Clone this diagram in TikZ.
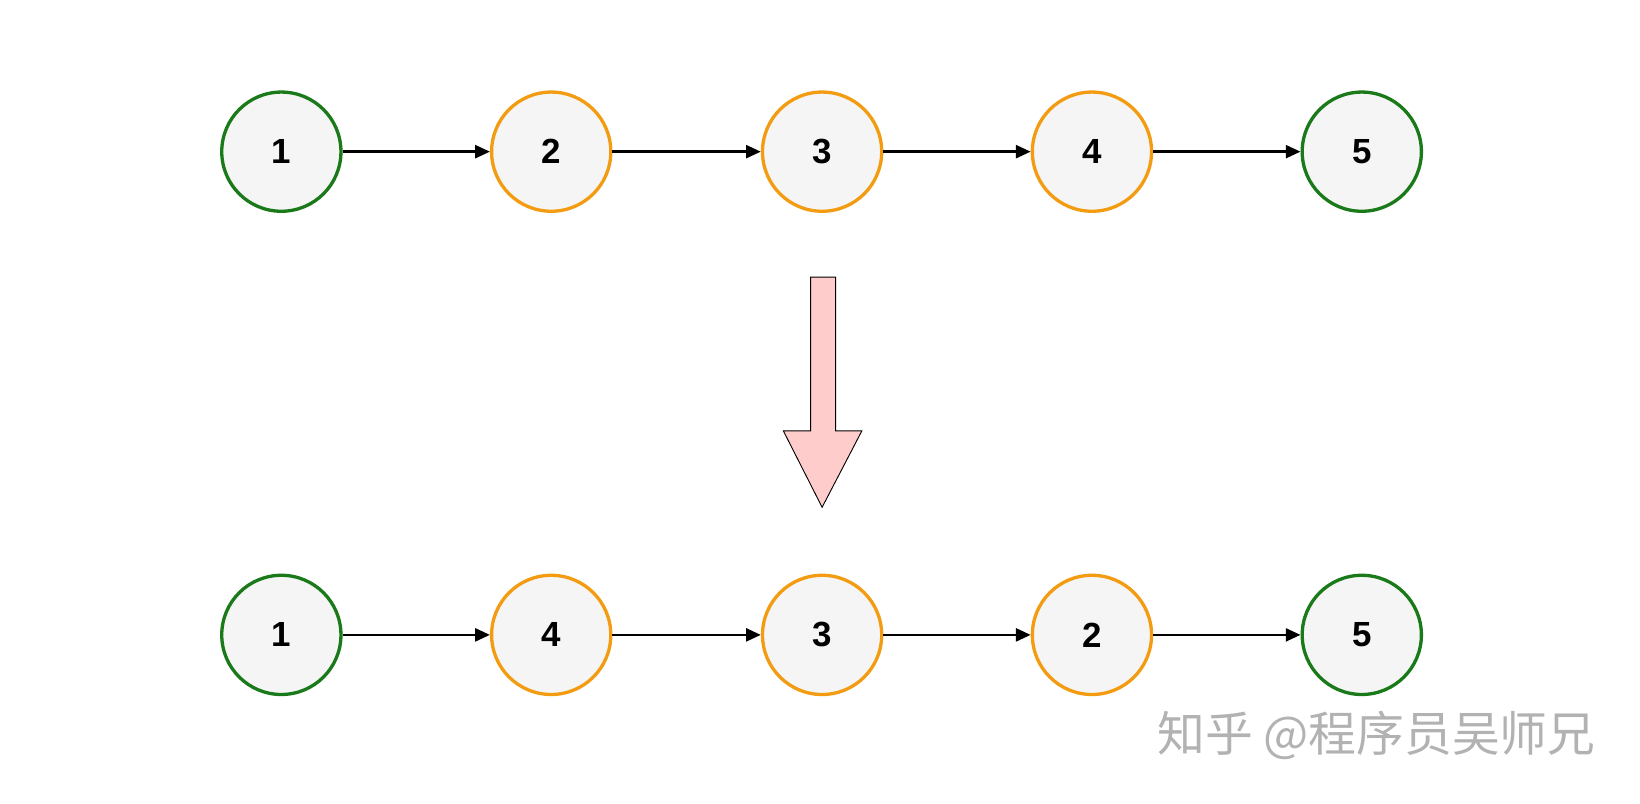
\documentclass[tikz,border=0pt]{standalone}
\usepackage{fontspec}
\setmainfont{Liberation Sans}
\newfontfamily\cjk{Noto Sans CJK SC}
\usetikzlibrary{arrows.meta,positioning}
\definecolor{nodefill}{HTML}{F5F5F5}
\definecolor{endgreen}{HTML}{1A7A1A}
\definecolor{midorange}{HTML}{F39C12}
\definecolor{pinkfill}{HTML}{FFCCCC}
\begin{document}
\begin{tikzpicture}[x=0.02cm, y=-0.02cm,
        endnode/.style={circle, draw=endgreen, line width=1.8pt, fill=nodefill, minimum size=2.28cm, inner sep=0pt, font=\fontsize{19}{22}\selectfont\bfseries},
        midnode/.style={endnode, draw=midorange},
        link/.style={-{Triangle[length=8pt,width=7pt]}, line width=1.4pt}
    ]
        \useasboundingbox (0,0) rectangle (1568,768);

        % Original list
        \node[endnode] (a1) at (269,145) {1};
        \node[midnode] (a2) at (527,145) {2};
        \node[midnode] (a3) at (786,145) {3};
        \node[midnode] (a4) at (1044,145) {4};
        \node[endnode] (a5) at (1302,145) {5};

        % Reversed middle
        \node[endnode] (b1) at (269,607) {1};
        \node[midnode] (b4) at (527,607) {4};
        \node[midnode] (b3) at (786,607) {3};
        \node[midnode] (b2) at (1044,607) {2};
        \node[endnode] (b5) at (1302,607) {5};

        \foreach \s/\t in {a1/a2, a2/a3, a3/a4, a4/a5, b1/b4, b4/b3, b3/b2, b2/b5}
            \draw[link] (\s) -- (\t);

        % Big arrow
        \draw[fill=pinkfill, line width=0.5pt] (775,265) -- (799,265) -- (799,412) -- (824,412)
            -- (786,485) -- (749,412) -- (775,412) -- cycle;

        \node[font=\cjk\fontsize{26}{30}\selectfont, text=gray!60] (mark) at (1316,703) {知乎 @程序员吴师兄};
    \end{tikzpicture}
\end{document}
